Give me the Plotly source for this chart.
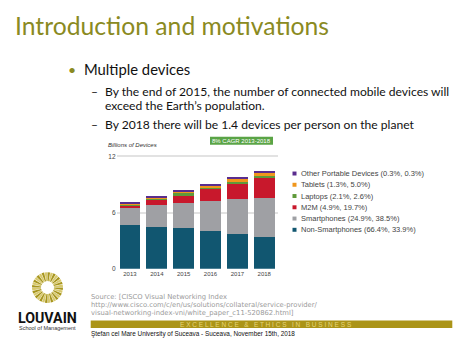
import math
import plotly.graph_objects as go

W, H = 474, 355

years = ["2013", "2014", "2015", "2016", "2017", "2018"]
non_smartphones = [4.63, 4.45, 4.34, 4.06, 3.74, 3.39]
smartphones = [1.83, 2.36, 2.72, 3.22, 3.71, 4.13]
m2m = [0.32, 0.53, 0.81, 1.19, 1.59, 2.12]
laptops = [0.14, 0.24, 0.20, 0.29, 0.25, 0.29]
tablets = [0.11, 0.08, 0.23, 0.18, 0.35, 0.42]
other_portable = [0.10, 0.04, 0.10, 0.10, 0.11, 0.14]

series_names = [
    "Non-Smartphones (66.4%, 33.9%)",
    "Smartphones (24.9%, 38.5%)",
    "M2M (4.9%, 19.7%)",
    "Laptops (2.1%, 2.6%)",
    "Tablets (1.3%, 5.0%)",
    "Other Portable Devices (0.3%, 0.3%)",
]
series_values = [non_smartphones, smartphones, m2m, laptops, tablets, other_portable]
series_colors = ["#115670", "#9fa0a4", "#c8182c", "#5f9a3a", "#f0961c", "#5a2d8e"]

y_ticks = [0, 6, 12]


def px(x):
    return x / W


def py(y):
    return 1 - y / H


fig = go.Figure()
for name, vals, col in zip(series_names, series_values, series_colors):
    fig.add_trace(go.Bar(x=years, y=vals, name=name, marker=dict(color=col, line=dict(width=0)),
                         showlegend=False, hoverinfo="skip"))

shapes = []
ann = []


def text(x, y, t, size, color="#111111", family="Liberation Sans", xanchor="left"):
    ann.append(dict(x=px(x), y=py(y), xref="paper", yref="paper", text=t, showarrow=False,
                    xanchor=xanchor, yanchor="middle", font=dict(family=family, size=size, color=color)))


# Slide title & bullets
text(13, 26, "Introduction and motivations", 24.7, "#8a8a22", "Lato")
text(66, 70, "•", 14, "#8a8a22", "Lato")
text(82, 70, "Multiple devices", 14.8, "#111111", "Lato")
text(89, 92.5, "–", 12, "#111111", "Lato")
text(103, 92.5, "By the end of 2015, the number of connected mobile devices will", 12.1, "#111111", "Lato")
text(103, 106.5, "exceed the Earth’s population.", 12.1, "#111111", "Lato")
text(89, 126, "–", 12, "#111111", "Lato")
text(103, 126, "By 2018 there will be 1.4 devices per person on the planet", 12.1, "#111111", "Lato")

# Chart labels
text(106, 146, "<i>Billions of Devices</i>", 6, "#333333")
shapes.append(dict(type="rect", xref="paper", yref="paper", x0=px(210), x1=px(273), y0=py(146), y1=py(138),
                   fillcolor="#5aa446", line=dict(width=0), layer="above"))
text(241.5, 142, "8% CAGR 2013-2018", 6, "#ffffff", xanchor="center")

# Legend (built from series lists, top item = last series)
leg_y0 = 175
leg_dy = 11.35
for i, (name, col) in enumerate(zip(reversed(series_names), reversed(series_colors))):
    yy = leg_y0 + i * leg_dy
    shapes.append(dict(type="rect", xref="paper", yref="paper", x0=px(292.5), x1=px(296.5),
                       y0=py(yy + 2), y1=py(yy - 2), fillcolor=col, line=dict(width=0)))
    text(298.5, yy, name, 7.5, "#444444")

# Logo
cx, cy, r_out, r_in = 47.5, 290, 15.5, 6.5
n = 32
for k in range(n):
    a0 = 2 * math.pi * k / n
    a1 = a0 + 2 * math.pi / n * 0.85
    pts = [(cx + r_in * math.cos(a0), cy + r_in * math.sin(a0)),
           (cx + r_out * math.cos(a0), cy + r_out * math.sin(a0)),
           (cx + r_out * math.cos(a1), cy + r_out * math.sin(a1)),
           (cx + r_in * math.cos(a1), cy + r_in * math.sin(a1))]
    path = "M " + " L ".join(f"{px(x):.5f},{py(y):.5f}" for x, y in pts) + " Z"
    shapes.append(dict(type="path", xref="paper", yref="paper", path=path,
                       fillcolor="#a8961e" if k % 2 == 0 else "#d8c96e", line=dict(width=0)))
text(47.5, 320.5, "<b>LOUVAIN</b>", 14.2, "#111111", "Roboto", "center")
text(47.5, 331, "School of Management", 5.5, "#333333", xanchor="center")

# Source
src = ["Source: [CISCO Visual Networking Index",
       "http://www.cisco.com/c/en/us/solutions/collateral/service-provider/",
       "visual-networking-index-vni/white_paper_c11-520862.html]"]
for i, t in enumerate(src):
    text(89, 300 + i * 8, t, 6.8, "#9a9a9a", "DejaVu Sans")

# Footer bar
shapes.append(dict(type="rect", xref="paper", yref="paper", x0=px(90.7), x1=px(452.3), y0=py(330.7),
                   y1=py(323.3), fillcolor="#ab9418", line=dict(width=0)))
text(266, 327, " ".join("EXCELLENCE & ETHICS IN BUSINESS"), 6.5, "#e6d57a", xanchor="center")
text(89, 337, "Ştefan cel Mare University of Suceava - Suceava, November 15th, 2018", 6.4, "#111111")

fig.update_layout(
    width=W, height=H, autosize=False,
    margin=dict(l=0, r=0, t=0, b=0),
    paper_bgcolor="#ffffff", plot_bgcolor="#ffffff",
    barmode="stack", bargap=0.23,
    showlegend=False,
    shapes=shapes, annotations=ann,
    xaxis=dict(domain=[px(116.5), px(277.7)], showgrid=False, showline=False, zeroline=False,
               ticks="", tickangle=0, tickfont=dict(family="Liberation Sans", size=6, color="#444444")),
    yaxis=dict(domain=[py(271), py(153)], range=[0, 12.5], tickvals=y_ticks, ticktext=[str(v) for v in y_ticks],
               showgrid=True, gridcolor="#e2e2e2", gridwidth=1.5, zeroline=False, showline=False,
               ticks="", tickfont=dict(family="Liberation Sans", size=6.5, color="#444444")),
)

fig.write_html("out.html", config={"displayModeBar": False},
               post_script="document.body.style.margin='0';")
